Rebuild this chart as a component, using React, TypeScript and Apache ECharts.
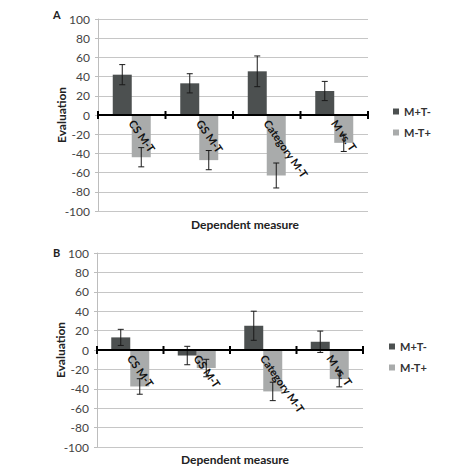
import { useEffect, useRef } from "react";
import * as echarts from "echarts";

const categories = ["CS M-T", "GS M-T", "Category M-T", "M vs. T"];
const seriesNames = ["M+T-", "M-T+"];
const yTicks = [-100, 100, 20];

// panel A
const posA = [42, 33, 45.5, 25];
const errPosA = [10.5, 10, 16, 10];
const negA = [-44, -47, -63, -29];
const errNegA = [10, 10, 13, 9];

// panel B
const posB = [13, -5.7, 25, 8.5];
const errPosB = [8.3, 9.5, 15, 11];
const negB = [-37.6, -18.6, -42.7, -30];
const errNegB = [8, 9, 9.5, 8];

const DARK = "#4c5050";
const LIGHT = "#a9abab";
const FONT = "Lato, 'Open Sans', sans-serif";
const BAR_W = 19;

function errData(pos: number[], errPos: number[], neg: number[], errNeg: number[]) {
  const rows: number[][] = [];
  pos.forEach((v, i) => rows.push([i, v, errPos[i], -1]));
  neg.forEach((v, i) => rows.push([i, v, errNeg[i], 1]));
  return rows;
}

function renderErr(_params: any, api: any) {
  const idx = api.value(0);
  const mean = api.value(1);
  const err = api.value(2);
  const side = api.value(3);
  const c = api.coord([idx, mean]);
  const x = c[0] + (side * BAR_W) / 2;
  const top = api.coord([idx, mean + err])[1];
  const bottom = api.coord([idx, mean - err])[1];
  const style = { stroke: "#1a1a1a", lineWidth: 1 };
  return {
    type: "group",
    children: [
      { type: "line", shape: { x1: x, y1: top, x2: x, y2: bottom }, style },
      { type: "line", shape: { x1: x - 3, y1: top, x2: x + 3, y2: top }, style },
      { type: "line", shape: { x1: x - 3, y1: bottom, x2: x + 3, y2: bottom }, style },
    ],
  };
}

// tick marks crossing the zero line at the category boundaries
function renderTick(_params: any, api: any) {
  const idx = api.value(0);
  const c = api.coord([idx, 0]);
  const w = api.size([1, 0])[0];
  const x = c[0] + (api.value(1) > 0 ? w / 2 : -w / 2);
  return {
    type: "line",
    shape: { x1: x, y1: c[1] - 4, x2: x, y2: c[1] + 4 },
    style: { stroke: "#000", lineWidth: 2 },
  };
}

const tickData = [[0, -1], [0, 1], [1, 1], [2, 1], [3, 1]];

function panelAxes(gridIndex: number, halfHeight: number) {
  const x = {
    type: "category",
    gridIndex,
    data: categories,
    z: 10,
    offset: -halfHeight,
    axisLine: { onZero: false, lineStyle: { color: "#000", width: 2 } },
    axisTick: { show: false },
    axisLabel: {
      rotate: -55,
      margin: 6,
      color: "#111",
      fontFamily: FONT,
      fontWeight: "bold",
      fontSize: 11,
    },
    splitLine: { show: false },
  };
  const y = {
    type: "value",
    gridIndex,
    min: yTicks[0],
    max: yTicks[1],
    interval: yTicks[2],
    name: "Evaluation",
    nameLocation: "middle",
    nameGap: 31,
    nameMoveOverlap: false,
    nameTextStyle: { color: "#222", fontFamily: FONT, fontWeight: "bold", fontSize: 12 },
    axisLine: { show: true, onZero: false, lineStyle: { color: "#bdbdbd" } },
    axisTick: { show: true, length: 3, lineStyle: { color: "#bdbdbd" } },
    axisLabel: { color: "#444", fontFamily: FONT, fontSize: 12, margin: 8 },
    splitLine: { lineStyle: { color: "#c6c6c6", width: 1 } },
  };
  return { x, y };
}

export default function App() {
  const ref = useRef<HTMLDivElement | null>(null);

  useEffect(() => {
    const el = ref.current;
    if (!el) return;
    const chart = echarts.init(el, null, { renderer: "svg" });
    const a = panelAxes(0, 96);
    const b = panelAxes(1, 97);
    const barBase = { type: "bar", barWidth: BAR_W, barGap: "0%" };
    const legendBase = {
      data: seriesNames,
      orient: "vertical",
      itemWidth: 6,
      itemHeight: 6,
      itemGap: 10,
      icon: "rect",
      selectedMode: false,
      textStyle: { fontSize: 11, fontWeight: "bold", color: "#333", fontFamily: FONT },
    };
    const titleStyle = { fontWeight: "bold", color: "#222", fontFamily: FONT };

    chart.setOption({
      animation: false,
      backgroundColor: "#fff",
      textStyle: { fontFamily: FONT },
      grid: [
        { left: 98, top: 19, width: 270, height: 192 },
        { left: 97, top: 253, width: 266, height: 194 },
      ],
      title: [
        { text: "A", left: 48, top: 4, textStyle: { ...titleStyle, fontSize: 11 } },
        { text: "B", left: 48, top: 242, textStyle: { ...titleStyle, fontSize: 11 } },
        { text: "Dependent measure", left: 240, top: 213, textAlign: "center", textStyle: { ...titleStyle, fontSize: 12 } },
        { text: "Dependent measure", left: 230, top: 448, textAlign: "center", textStyle: { ...titleStyle, fontSize: 12 } },
      ],
      legend: [
        { ...legendBase, left: 388, top: 101 },
        { ...legendBase, left: 384, top: 336 },
      ],
      xAxis: [a.x, b.x],
      yAxis: [a.y, b.y],
      series: [
        { ...barBase, name: seriesNames[0], xAxisIndex: 0, yAxisIndex: 0, data: posA, itemStyle: { color: DARK } },
        { ...barBase, name: seriesNames[1], xAxisIndex: 0, yAxisIndex: 0, data: negA, itemStyle: { color: LIGHT } },
        {
          type: "custom",
          xAxisIndex: 0,
          yAxisIndex: 0,
          z: 5,
          data: errData(posA, errPosA, negA, errNegA),
          encode: { x: 0, y: 1 },
          renderItem: renderErr,
        },
        {
          type: "custom",
          xAxisIndex: 0,
          yAxisIndex: 0,
          z: 12,
          data: tickData,
          encode: { x: 0 },
          renderItem: renderTick,
        },
        { ...barBase, name: seriesNames[0], xAxisIndex: 1, yAxisIndex: 1, data: posB, itemStyle: { color: DARK } },
        { ...barBase, name: seriesNames[1], xAxisIndex: 1, yAxisIndex: 1, data: negB, itemStyle: { color: LIGHT } },
        {
          type: "custom",
          xAxisIndex: 1,
          yAxisIndex: 1,
          z: 5,
          data: errData(posB, errPosB, negB, errNegB),
          encode: { x: 0, y: 1 },
          renderItem: renderErr,
        },
        {
          type: "custom",
          xAxisIndex: 1,
          yAxisIndex: 1,
          z: 12,
          data: tickData,
          encode: { x: 0 },
          renderItem: renderTick,
        },
      ],
    });

    return () => chart.dispose();
  }, []);

  return <div ref={ref} style={{ position: "absolute", left: 0, top: 0, width: 474, height: 474 }} />;
}
